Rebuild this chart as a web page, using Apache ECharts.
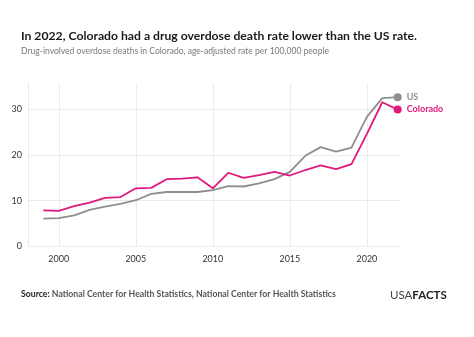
<!DOCTYPE html>
<html>
<head>
<meta charset="utf-8">
<script src="https://cdn.jsdelivr.net/npm/echarts@6/dist/echarts.min.js"></script>
<style>
html,body{margin:0;padding:0;background:#fff;}
#c{width:474px;height:337px;}
</style>
</head>
<body>
<div id="c"></div>
<script>
const years = [1999,2000,2001,2002,2003,2004,2005,2006,2007,2008,2009,2010,2011,2012,2013,2014,2015,2016,2017,2018,2019,2020,2021,2022];
const colorado = [7.9,7.8,8.8,9.6,10.6,10.8,12.7,12.8,14.7,14.8,15.1,12.7,16.1,15.0,15.6,16.3,15.5,16.7,17.7,16.9,18.0,24.6,31.5,29.9];
const us = [6.1,6.2,6.8,8.0,8.7,9.3,10.1,11.5,11.9,11.9,11.9,12.3,13.2,13.1,13.8,14.7,16.3,19.8,21.7,20.7,21.6,28.3,32.4,32.6];
const yTicks = [0,10,20,30];
const xTicks = [2000,2005,2010,2015,2020];

const FONT = 'Lato, "Noto Sans", sans-serif';
const GRID = '#ebebeb';
const PINK = '#e0197d';
const GRAY = '#8e8e8e';
const T = 'rgba(0,0,0,0)';

function pairs(vals){ return years.map((y,i)=>[y, vals[i]]); }
function sym(v, p){ return p.dataIndex === years.length - 1 ? 8 : 0; }

const chart = echarts.init(document.getElementById('c'), null, {renderer:'canvas'});
chart.setOption({
  animation:false,
  backgroundColor:'#fff',
  title:[
    {text:'In 2022, Colorado had a drug overdose death rate lower than the US rate.', left:16, top:25,
     textStyle:{fontFamily:FONT, fontSize:12.2, fontWeight:'bold', color:'#1a1a1a'}},
    {text:'Drug-involved overdose deaths in Colorado, age-adjusted rate per 100,000 people', left:16, top:42,
     textStyle:{fontFamily:FONT, fontSize:8.55, fontWeight:'normal', color:'#7a7a7a'}},
    {text:'{b|Source: }{g|National Center for Health Statistics, National Center for Health Statistics}', left:16, top:285,
     textStyle:{rich:{b:{fontFamily:FONT, fontSize:8.7, fontWeight:'bold', color:'#222'}, g:{fontFamily:FONT, fontSize:8.7, fontWeight:'bold', color:'#555'}}}},
    {text:'{l|USA}{r|FACTS}', left:385, top:284,
     textStyle:{rich:{l:{fontFamily:FONT, fontSize:11.5, fontWeight:'normal', color:'#444'}, r:{fontFamily:FONT, fontSize:11.5, fontWeight:'bold', color:'#222'}}}}
  ],
  grid:{left:28, right:74, top:83, bottom:90.5, containLabel:false},
  xAxis:{
    type:'value', min:1998, max:2022.15, interval:1,
    axisLine:{show:false}, axisTick:{show:false},
    axisLabel:{fontFamily:FONT, fontSize:9, color:'#333', margin:8,
      formatter:v=> xTicks.indexOf(v) >= 0 ? String(v) : ''},
    splitLine:{show:true, lineStyle:{width:1, color:[T,T,GRID,T,T]}}
  },
  yAxis:{
    type:'value', min:0, max:35.7, interval:10,
    axisLine:{show:true, lineStyle:{color:GRID}}, axisTick:{show:false},
    axisLabel:{fontFamily:FONT, fontSize:9, color:'#333', margin:6,
      formatter:v=> yTicks.indexOf(v) >= 0 ? String(v) : ''},
    splitLine:{show:true, lineStyle:{width:1, color:[GRID,GRID,GRID,GRID,T]}}
  },
  series:[
    {name:'US', type:'line', data:pairs(us), symbol:'circle', symbolSize:sym, showSymbol:true,
     lineStyle:{color:GRAY, width:1.8}, itemStyle:{color:GRAY},
     endLabel:{show:true, formatter:'{a}', color:GRAY, fontFamily:FONT, fontSize:9, fontWeight:'bold', distance:9}},
    {name:'Colorado', type:'line', data:pairs(colorado), symbol:'circle', symbolSize:sym, showSymbol:true,
     lineStyle:{color:PINK, width:1.8}, itemStyle:{color:PINK},
     endLabel:{show:true, formatter:'{a}', color:PINK, fontFamily:FONT, fontSize:9, fontWeight:'bold', distance:9}}
  ]
});
</script>
</body>
</html>
